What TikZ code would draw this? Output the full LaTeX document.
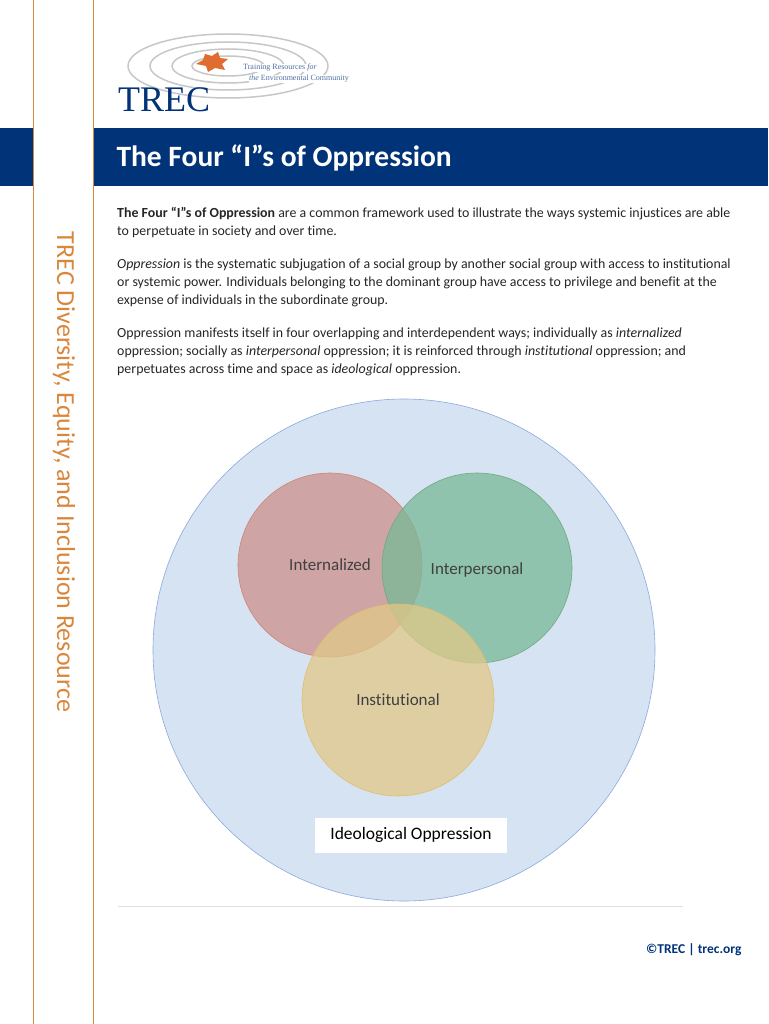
\documentclass[tikz,border=0pt]{standalone}
\usepackage{fontspec}
\setmainfont{Carlito}[Ligatures={NoCommon}]
\newfontfamily\serifl{Liberation Serif}
\begin{document}
\begin{tikzpicture}[x=1pt,y=-1pt,
  body/.style={anchor=west,inner sep=0pt,font=\fontsize{13.9}{16}\selectfont,text=black!85},
  venn/.style={circle,minimum size=#1,inner sep=0pt,draw,line width=0.6pt},
  lab/.style={font=\fontsize{17}{20}\selectfont,text=black!75}]
\useasboundingbox (0,0) rectangle (768,1024);
\fill[white] (0,0) rectangle (768,1024);
\definecolor{navy}{RGB}{1,51,121}
\definecolor{org}{RGB}{216,135,60}
% banner
\fill[navy] (0,128) rectangle (33,186);
\fill[navy] (93,128) rectangle (768,186);
\draw[org,line width=0.8pt] (33,0) -- (33,1024);
\draw[org,line width=0.8pt] (93,0) -- (93,1024);
\node[anchor=west,text=white,font=\bfseries\fontsize{29.5}{32}\selectfont] (title) at (113,158) {The Four “I”s of Oppression};
% side text
\node[rotate=-90,text=org,font=\fontsize{26}{30}\selectfont] (side) at (64,472) {TREC Diversity, Equity, and Inclusion Resource};
% logo
\foreach \rx/\ry in {100/32,78/24,56/17,36/10}{\draw[black!22,line width=1.5pt] (228,66) ellipse ({\rx} and {\ry});}
\fill[org!80!red] (205,54) -- (212,56) -- (218,52) -- (220,58) -- (228,59) -- (222,64) -- (225,70) -- (215,68) -- (208,72) -- (206,66) -- (196,64) -- (203,60) -- cycle;
\node[anchor=west,text=navy,font=\serifl\fontsize{36}{36}\selectfont,inner sep=0pt] (trec) at (118,100) {TREC};
\node[anchor=west,text=navy!70,font=\serifl\fontsize{8}{8}\selectfont,inner sep=0pt,fill=white] (tr1) at (243,68) {Training Resources \textit{for}};
\node[anchor=west,text=navy!70,font=\serifl\fontsize{8}{8}\selectfont,inner sep=0pt,fill=white] (tr2) at (249,79) {\textit{the} Environmental Community};
% body
\node[body] (l1) at (117,214) {\textbf{The Four “I”s of Oppression} are a common framework used to illustrate the ways systemic injustices are able};
\node[body] (l2) at (117,232) {to perpetuate in society and over time.};
\node[body] (l3) at (117,265) {\textit{Oppression} is the systematic subjugation of a social group by another social group with access to institutional};
\node[body] (l4) at (117,283) {or systemic power. Individuals belonging to the dominant group have access to privilege and benefit at the};
\node[body] (l5) at (117,301) {expense of individuals in the subordinate group.};
\node[body] (l6) at (117,334) {Oppression manifests itself in four overlapping and interdependent ways; individually as \textit{internalized}};
\node[body] (l7) at (117,352) {oppression; socially as \textit{interpersonal} oppression; it is reinforced through \textit{institutional} oppression; and};
\node[body] (l8) at (117,370) {perpetuates across time and space as \textit{ideological} oppression.};
% venn
\node[venn=502pt,fill={rgb,255:red,214;green,227;blue,243},draw={rgb,255:red,140;green,170;blue,220}] (big) at (404,650) {};
\node[venn=184pt,fill={rgb,255:red,205;green,150;blue,145},draw={rgb,255:red,210;green,130;blue,120},fill opacity=0.8] (red) at (330,565) {};
\node[venn=190pt,fill={rgb,255:red,120;green,185;blue,150},draw={rgb,255:red,110;green,170;blue,130},fill opacity=0.75] (green) at (477,568) {};
\node[venn=192pt,fill={rgb,255:red,225;green,200;blue,135},draw={rgb,255:red,225;green,190;blue,110},fill opacity=0.75] (yel) at (398,700) {};
\node[lab] (t1) at (330,565) {Internalized};
\node[lab] (t2) at (477,570) {Interpersonal};
\node[lab] (t3) at (398,700) {Institutional};
\node[fill=white,minimum width=192pt,minimum height=35pt,font=\fontsize{17.5}{20}\selectfont,text=black] (ideo) at (411,835) {Ideological Oppression};
% footer
\draw[black!12,line width=0.8pt] (118,906) -- (683,906);
\node[anchor=east,text=navy,font=\bfseries\fontsize{13.5}{15}\selectfont] (foot) at (745,950) {©TREC | trec.org};
\end{tikzpicture}
\end{document}
